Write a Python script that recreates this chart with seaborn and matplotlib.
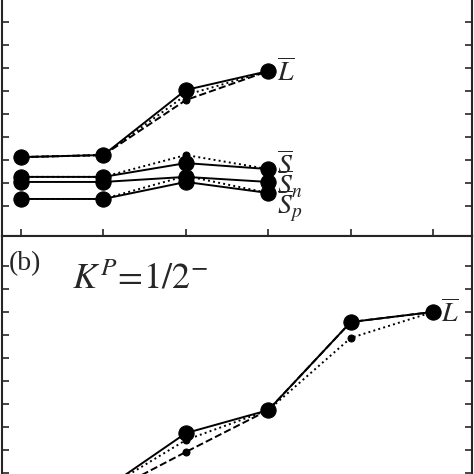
import numpy as np
import seaborn as sns
import matplotlib.pyplot as plt

sns.set_style("ticks")
plt.rcParams['font.family'] = ['Liberation Serif', 'DejaVu Serif']
plt.rcParams['mathtext.fontset'] = 'stix'

# panel (a), four x positions
xa = [0, 1, 2, 3]
L_solid = [3.43, 3.52, 6.35, 7.17]
L_dash = [3.43, 3.52, 5.91, 7.17]
L_dot = [3.43, 3.52, 6.13, 7.17]
S_solid = [2.57, 2.57, 3.17, 2.91]
S_dot = [2.57, 2.57, 3.52, 2.91]
Sn_solid = [2.35, 2.35, 2.57, 2.35]
Sp_solid = [1.61, 1.61, 2.35, 1.87]
Sp_dot = [1.61, 1.61, 2.61, 1.87]

# panel (b)
xb = [1, 2, 3, 4, 5]
Lb_solid = [0.96, 3.43, 4.43, 8.26, 8.70]
Lb_dot = [0.96, 3.13, 4.43, 7.57, 8.70]
Lb_dash = [0.74, 2.61, 4.43, 8.26, 8.70]

W = 474.0
fig = plt.figure(figsize=(4.74, 4.74), dpi=100)
left, width = 2 / W, 470 / W
ax1 = fig.add_axes([left, 1 - 236 / W, width, 276 / W])
ax2 = fig.add_axes([left, 1 - 512 / W, width, 276 / W])

def line(ax, x, y, ls, big):
    sns.lineplot(x=x, y=y, ax=ax, color='black', linestyle=ls, lw=1.4,
                 marker='o', markersize=11 if big else 5,
                 markeredgecolor='black', legend=False)

for y, ls, big in [(L_dash, '--', False), (L_dot, ':', False), (L_solid, '-', True),
                   (S_dot, ':', False), (S_solid, '-', True), (Sn_solid, '-', True),
                   (Sp_dot, ':', False), (Sp_solid, '-', True)]:
    line(ax1, xa, y, ls, big)
for y, ls, big in [(Lb_dash, '--', False), (Lb_dot, ':', False), (Lb_solid, '-', True)]:
    line(ax2, xb, y, ls, big)

for ax in (ax1, ax2):
    ax.set_xlim(-0.23, 5.47)
    ax.set_ylim(0, 12)
    ax.set_xticks(range(6))
    ax.tick_params(direction='in', right=True, length=5, width=1.2,
                   labelleft=False, labelbottom=False)
    for s in ax.spines.values():
        s.set_linewidth(1.5)
ax1.set_yticks(np.arange(1.3, 12, 1))
ax2.set_yticks(np.arange(10.7, 0, -1))
ax2.tick_params(bottom=False)

ax1.text(3.1, 7.1, r'$\overline{L}$', fontsize=20, va='center')
ax1.text(3.1, 3.05, r'$\overline{S}$', fontsize=20, va='center')
ax1.text(3.1, 2.25, r'$\overline{S}_n$', fontsize=20, va='center')
ax1.text(3.1, 1.3, r'$\overline{S}_p$', fontsize=20, va='center')
ax2.text(5.1, 8.6, r'$\overline{L}$', fontsize=20, va='center')
ax2.text(-0.15, 10.8, '(b)', fontsize=20, va='center')
ax2.text(0.62, 10.1, r'$K^P\!=\!1/2^{-}$', fontsize=26, va='center')

fig.savefig('out.png', dpi=100)
